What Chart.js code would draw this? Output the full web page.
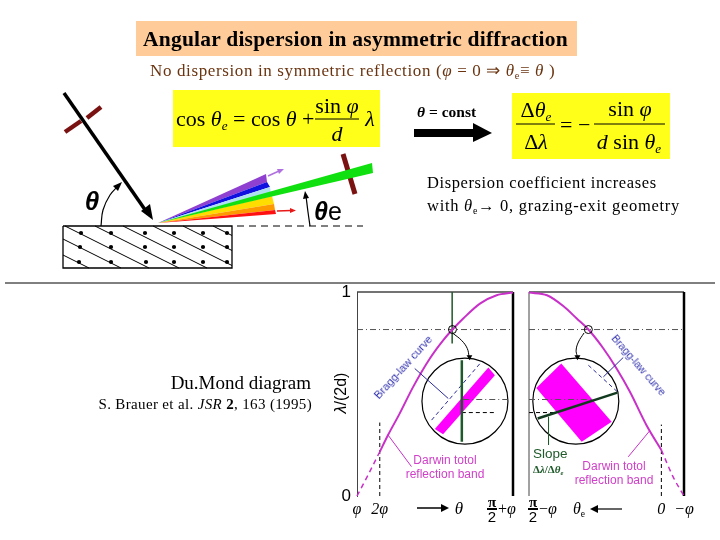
<!DOCTYPE html>
<html><head><meta charset="utf-8">
<script src="https://cdn.jsdelivr.net/npm/chart.js@4"></script>
<style>
html,body{margin:0;padding:0;background:#fff;width:720px;height:540px;overflow:hidden}
canvas{position:absolute}
.t{position:absolute;white-space:nowrap;line-height:1;font-family:"Liberation Serif",serif;color:#000}
sub{font-size:.6em;vertical-align:-.3em;line-height:0}
</style></head><body>
<canvas id="page" style="left:0;top:0"></canvas>
<canvas id="left" style="left:330px;top:280px"></canvas>
<canvas id="right" style="left:520px;top:280px"></canvas>
<script>
// ---------- panel data: x = position along the panel (0..1), y = lambda/(2d) ----------
const yTicks = [0, 1];
const yTickLabels = ['0', '1'];
const leftXTicks = [0, 0.146, 1];
const leftXTickLabels = ['φ', '2φ', ''];
const rightXTicks = [0.854, 1];
const rightXTickLabels = ['0', '−φ'];

const leftCurveSolidX = [0.146, 0.199, 0.274, 0.360, 0.467, 0.552, 0.612, 0.681, 0.788, 0.895, 1];
const leftCurveSolidY = [0.217, 0.299, 0.405, 0.535, 0.674, 0.763, 0.816, 0.870, 0.943, 0.984, 0.997];
const leftCurveDashX = [0, 0.071, 0.146];
const leftCurveDashY = [0, 0.103, 0.217];
const rightCurveSolidX = [0, 0.116, 0.223, 0.308, 0.383, 0.480, 0.565, 0.651, 0.758, 0.854];
const rightCurveSolidY = [0.997, 0.984, 0.930, 0.870, 0.816, 0.723, 0.625, 0.511, 0.347, 0.225];
const rightCurveDashX = [0.854, 0.929, 1];
const rightCurveDashY = [0.225, 0.095, 0];
const braggLevel = 0.816;

// ---------- schematic shapes ----------
const crystalDots = [[81,233],[111,233],[145,233],[174,233],[203,233],[227,233],[80,247],[111,247],[145,247],[174,247],[203,247],[227,247],[79,262],[111,262],[146,262],[174,262],[203,262],[227,262]];
const crystalLines = [[[65,226],[149,268]],[[95,226],[179,268]],[[123,226],[207,268]],[[153,226],[232,265.5]],[[183,226],[232,250.5]],[[213,226],[232,235.5]],[[63,239],[121,268]],[[63,255],[89,268]]];
const fanApex = [158,223];
const fanBands = [
  ['#9040d0',[266,174],[267,182]],['#1010e0',[267,182],[270,187]],['#b0e0f0',[270,187],[271,194]],
  ['#ffdd00',[272,196],[274,204]],['#ff9900',[274,204],[275,210]],['#ff1111',[275,210],[276,214]]];

const xy = (xs, ys) => xs.map((x, i) => ({x, y: ys[i]}));
const P = a => a.map(([x, y]) => ({x, y}));

function seg(pts, color, width, dash, smooth) {
  return {data: P(pts), showLine: true, borderColor: color, borderWidth: width, borderDash: dash || [],
    pointRadius: 0, tension: smooth ? 0.4 : 0, clip: false, fill: false};
}
function curve(xs, ys, color, width, dash) {
  return {...seg([], color, width, dash), data: xy(xs, ys), cubicInterpolationMode: 'monotone'};
}
function poly(pts, color) {
  return {data: P(pts), showLine: false, polygon: color, pointRadius: 0, borderWidth: 0, clip: false};
}
function rect(x0, y0, x1, y1, color) { return poly([[x0,y0],[x1,y0],[x1,y1],[x0,y1]], color); }
function ring(p, r, lw, fill) {
  return {data: P([p]), showLine: false, pointRadius: r, pointHoverRadius: r, pointBorderWidth: lw,
    pointBorderColor: '#000', pointBackgroundColor: fill || 'rgba(0,0,0,0)', clip: false};
}
const polygonPlugin = {
  id: 'polygon',
  beforeDatasetDraw(chart, args) {
    const ds = chart.data.datasets[args.index];
    if (!ds.polygon) return;
    const pts = chart.getDatasetMeta(args.index).data, c = chart.ctx;
    c.save(); c.fillStyle = ds.polygon; c.beginPath();
    pts.forEach((p, i) => i ? c.lineTo(p.x, p.y) : c.moveTo(p.x, p.y));
    c.closePath(); c.fill(); c.restore();
  }
};
function painter(list) { list.forEach((d, i) => d.order = list.length - i); return list; }

const red = '#7a1212';
const pageSets = painter([
  rect(136,21,577,56,'#ffcc99'),
  rect(173,90,380,147,'#ffff1a'),
  rect(512,93,670,159,'#ffff1a'),
  seg([[315,119],[359,119]],'#000',1),
  seg([[516,124],[555,124]],'#000',1),
  seg([[594,124],[665,124]],'#000',1),
  rect(414,129,473,137,'#000'),
  poly([[473,123],[492,133],[473,142]],'#000'),
  seg([[5,283],[715,283]],'#000',1),
  // incident ray
  seg([[65,132],[81,121]],red,4.5),
  seg([[87,118],[101,107]],red,4.5),
  seg([[64,93],[148,214]],'#000',3.5),
  poly([[153,220],[141,211],[150,204]],'#000'),
  // exit fan
  seg([[343,154],[355,194]],red,5),
  ...fanBands.map(b => poly([fanApex,b[1],b[2]],b[0])),
  poly([fanApex,[372,163],[373,173]],'#10e010'),
  seg([[268,176],[279,171]],'#b070e0',1.5),
  poly([[284,169],[277,169],[279,174]],'#b070e0'),
  seg([[277,211],[291,210.5]],'#e81818',1.5),
  poly([[296,210.5],[290,208],[290,213]],'#e81818'),
  // crystal
  ...crystalLines.map(l => seg(l,'#000',1)),
  {data: P(crystalDots), showLine:false, pointRadius:2.1, pointBackgroundColor:'#000', pointBorderWidth:0, clip:false},
  seg([[63,226],[232,226],[232,268],[63,268],[63,226]],'#000',1.3),
  seg([[237,226],[363,226]],'#000',1,[7,5]),
  // angle arcs
  seg([[101,226],[103,210],[110,195],[119,185]],'#000',1.2,[],true),
  poly([[122,182],[113,186],[118,191]],'#000'),
  seg([[310,226],[308,212],[306,196]],'#000',1.2,[],true),
  poly([[305,191],[303,199],[309,198]],'#000'),
  // axis arrows under the panels
  seg([[417,508],[443,508]],'#000',1.5),
  poly([[449,508],[441,504],[441,512]],'#000'),
  seg([[622,509],[596,509]],'#000',1.2),
  poly([[590,509],[598,505],[598,513]],'#000'),
]);

const dkGreen = '#1f5a2a', magenta = '#c830c8', band = '#ff00ff', navy = '#2a2a9a', dashDot = [6,3,1,3];
const leftSets = painter([
  seg([[0,1],[1,1]],'#444',1.5),
  seg([[1,0],[1,1]],'#000',2.5),
  seg([[0,braggLevel],[1,braggLevel]],'#555',1,dashDot),
  seg([[0.146,0],[0.146,0.36]],'#000',1,[4,3]),
  seg([[0.61,1],[0.61,0.747]],dkGreen,1.5),
  curve(leftCurveSolidX,leftCurveSolidY,magenta,2),
  curve(leftCurveDashX,leftCurveDashY,magenta,1.5,[5,4]),
  ring([0.612,braggLevel],4,1),
  seg([[0.612,0.799],[0.670,0.763],[0.707,0.723],[0.719,0.680]],'#000',1,[],true),
  poly([[0.722,0.666],[0.702,0.690],[0.739,0.690]],'#000'),
  ring([0.692,0.465],43,1.2),
  poly([[0.499,0.328],[0.552,0.303],[0.884,0.592],[0.842,0.630]],band),
  seg([[0.478,0.372],[0.788,0.649]],navy,1,[4,3]),
  seg([[0.681,0.473],[0.966,0.473]],'#555',1,dashDot),
  seg([[0.672,0.409],[0.889,0.409]],'#000',1,[4,3]),
  seg([[0.672,0.666],[0.672,0.266]],dkGreen,2.5),
  seg([[0.370,0.625],[0.585,0.478]],navy,1),
  seg([[0.199,0.299],[0.349,0.144]],magenta,1),
]);
const rightSets = painter([
  seg([[0,1],[1,1]],'#444',1.5),
  seg([[0,0],[0,1]],'#444',1),
  seg([[1,0],[1,1]],'#000',2.5),
  seg([[0,braggLevel],[1,braggLevel]],'#555',1,dashDot),
  seg([[0.854,0],[0.854,0.35]],'#000',1,[4,3]),
  curve(rightCurveSolidX,rightCurveSolidY,magenta,2),
  curve(rightCurveDashX,rightCurveDashY,magenta,1.5,[5,4]),
  ring([0.383,braggLevel],4,1),
  seg([[0.355,0.799],[0.319,0.755],[0.304,0.715],[0.311,0.685]],'#000',1,[],true),
  poly([[0.313,0.666],[0.293,0.690],[0.332,0.690]],'#000'),
  ring([0.302,0.465],43,1.2),
  poly([[0.047,0.530],[0.208,0.649],[0.533,0.364],[0.340,0.266]],band),
  seg([[0,0.473],[0.415,0.473]],'#555',1,dashDot),
  seg([[0,0.409],[0.180,0.409]],'#000',1,[4,3]),
  seg([[0.383,0.641],[0.570,0.511]],navy,1,[4,3]),
  seg([[0.056,0.380],[0.570,0.507]],'#123a1e',2.5),
  seg([[0.480,0.584],[0.608,0.679]],navy,1),
  seg([[0.126,0.388],[0.126,0.250]],dkGreen,1),
  seg([[0.779,0.320],[0.640,0.192]],magenta,1),
]);

Chart.defaults.animation = false;
Chart.defaults.responsive = false;
Chart.defaults.devicePixelRatio = 1;
const plugins = {legend:{display:false},tooltip:{enabled:false}};

function size(id,w,h){const c=document.getElementById(id);c.width=w;c.height=h;c.style.width=w+'px';c.style.height=h+'px';return c;}

new Chart(size('page',720,540),{type:'scatter',data:{datasets:pageSets},plugins:[polygonPlugin],options:{
  plugins,layout:{padding:0,autoPadding:false},
  scales:{x:{display:false,min:0,max:720},y:{display:false,min:0,max:540,reverse:true}}}});

function panel(id,w,pad,sets,xT,xL,showY){
  new Chart(size(id,w,250),{type:'scatter',data:{datasets:sets},plugins:[polygonPlugin],options:{
    plugins,layout:{padding:pad,autoPadding:false},
    scales:{
      x:{type:'linear',min:0,max:1,grid:{display:false,drawTicks:false},border:{display:false},
        afterBuildTicks:s=>{s.ticks=xT.map(v=>({value:v}));},
        afterFit:s=>{s.height=34;s.paddingLeft=0;s.paddingRight=0;},
        ticks:{autoSkip:false,maxRotation:0,padding:4,color:'#000',font:{family:'Liberation Serif',size:16,style:'italic'},
          callback:v=>xL[xT.indexOf(v)]}},
      y:{type:'linear',min:0,max:1,display:showY,grid:{display:false,drawTicks:false},border:{display:true,color:'#444',width:1},
        afterBuildTicks:s=>{s.ticks=yTicks.map(v=>({value:v}));},
        afterFit:s=>{s.width=showY?27:0;s.paddingTop=0;s.paddingBottom=0;},
        ticks:{padding:6,color:'#000',font:{family:'Liberation Sans',size:17},
          callback:v=>yTickLabels[yTicks.indexOf(v)]}}
    }}});
}
panel('left',190,{left:0,right:7,top:12,bottom:0},leftSets,leftXTicks,leftXTickLabels,true);
panel('right',200,{left:9,right:36,top:12,bottom:0},rightSets,rightXTicks,rightXTickLabels,false);

// ---------- real text ----------
function T(html,x,y,css,anchor,rot){
  const d=document.createElement('div');d.className='t';d.innerHTML=html;
  d.style.cssText=`left:${x}px;top:${y}px;${css||''};transform:translate(${anchor==='c'?'-50%':anchor==='r'?'-100%':'0'},-50%)${rot?` rotate(${rot}deg)`:''}`;
  document.body.appendChild(d);return d;
}
const th='<i>θ</i>',ph='<i>φ</i>';
const sp=n=>`letter-spacing:${n}px`;
T('Angular dispersion in asymmetric diffraction',143,39,'font:bold 21.5px "Liberation Serif";'+sp(.22));
T(`No dispersion in symmetric reflection (${ph} = 0 ⇒ ${th}<sub>e</sub>≡ ${th} )`,150,70,'font:17px "Liberation Serif";color:#6a3410;'+sp(.63));
T(`cos ${th}<sub><i>e</i></sub> = cos ${th} +`,176,119,'font:22px "Liberation Serif"');
T(`sin ${ph}`,337,106,'font:22px "Liberation Serif"','c');
T('<i>d</i>',337,134,'font:22px "Liberation Serif"','c');
T('<i>λ</i>',370,119,'font:22px "Liberation Serif"','c');
T(`${th} = const`,417,112,'font:bold 15.5px "Liberation Serif"');
T(`Δ${th}<sub><i>e</i></sub>`,536,110,'font:22px "Liberation Serif"','c');
T('Δ<i>λ</i>',536,142,'font:22px "Liberation Serif"','c');
T('= −',560,125,'font:22px "Liberation Serif"');
T(`sin ${ph}`,630,109,'font:22px "Liberation Serif"','c');
T(`<i>d</i> sin ${th}<sub><i>e</i></sub>`,629,142,'font:22px "Liberation Serif"','c');
T('Dispersion coefficient increases',427,183,'font:16.5px "Liberation Serif";'+sp(.6));
T(`with ${th}<sub>e</sub>→ 0, grazing-exit geometry`,427,206,'font:16.5px "Liberation Serif";'+sp(.72));
T('<i>θ</i>',92,201,'font:bold 26px "Liberation Sans"','c');
T('<b><i>θ</i></b>e',328,211,'font:25px "Liberation Sans"','c');
T('Du.Mond diagram',311,383,'font:19px "Liberation Serif"','r');
T('S. Brauer et al. <i>JSR</i> <b>2</b>, 163 (1995)',312,404,'font:15px "Liberation Serif";'+sp(.35),'r');
T('<i>λ</i>/(2d)',341,393,'font:16px "Liberation Sans"','c',-90);
const blue='color:#3434b0;font:11.2px "Liberation Sans"',pk='color:#d040c8;font:12px/14px "Liberation Sans";text-align:center';
T('Bragg-law curve',403,367,blue,'c',-48);
T('Bragg-law curve',639,365,'color:#3434b0;font:10.6px "Liberation Sans"','c',49);
T('Darwin totol<br>reflection band',445,467,pk,'c');
T('Darwin totol<br>reflection band',614,473,pk,'c');
T('Slope',533,453,'color:#1f5a2a;font:13.5px "Liberation Sans"');
T('Δ<i>λ</i>/Δ<i>θ<sub>e</sub></i>',533,469,'color:#1f5a2a;font:bold 11px "Liberation Serif"');
T(th,459,509,'font:17px "Liberation Serif"','c');
T(`${th}<sub>e</sub>`,579,509,'font:16px "Liberation Serif"','c');
function frac(x,rest){
  T('π',x,502,'font:bold 15px "Liberation Serif"','c');
  T('2',x,516,'font:15px "Liberation Sans"','c');
  const d=document.createElement('div');d.style.cssText=`position:absolute;left:${x-5}px;top:508px;width:10px;height:1.5px;background:#000`;document.body.appendChild(d);
  T(rest,x+6,509,'font:16px "Liberation Serif"');
}
frac(492,`+${ph}`);
frac(533,`−${ph}`);
</script>
</body></html>
